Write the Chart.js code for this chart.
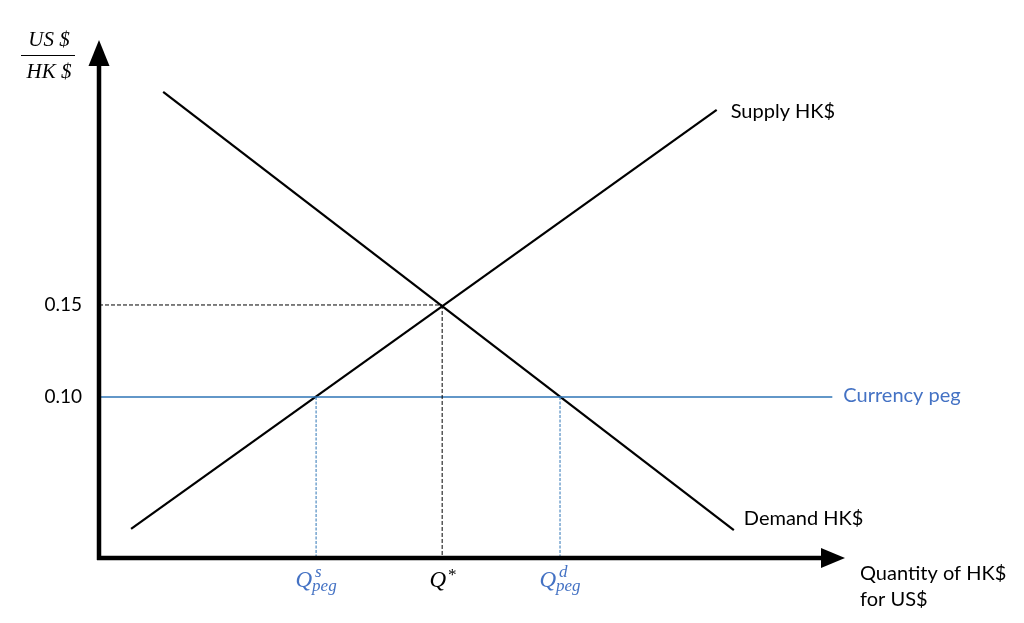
<!DOCTYPE html>
<html>
<head>
<meta charset="utf-8">
<script src="https://cdn.jsdelivr.net/npm/chart.js@4"></script>
<style>
html,body{margin:0;padding:0;background:#fff;}
#c{display:block;}
</style>
</head>
<body>
<canvas id="c" width="1024" height="623"></canvas>
<script>
// ---- data ----
const priceTicks = [0.10, 0.15];
const priceTickLabels = ["0.10", "0.15"];
const supplyX = [4.3, 82.8];
const supplyY = [0.0283, 0.256];
const demandX = [8.6, 85.1];
const demandY = [0.2658, 0.0277];
const pegX = [0, 98.3];
const pegY = [0.10, 0.10];
const eqQ = 46.0;
const eqP = 0.15;
const pegQs = 29.1;
const pegQd = 61.8;
const pegP = 0.10;
const qMin = 0, qMax = 100;
const pMin = 0.0125, pMax = 0.294;

const BLACK = '#000000';
const BLUE_LINE = '#2e75b6';
const BLUE_TEXT = '#4472c4';

function pts(xs, ys){ return xs.map((x,i)=>({x:x, y:ys[i]})); }

const datasets = [
  {label:'eqH', data: pts([qMin, eqQ],[eqP, eqP]), borderColor:BLACK, borderWidth:1, borderDash:[4,2]},
  {label:'eqV', data: pts([eqQ, eqQ],[eqP, pMin]), borderColor:BLACK, borderWidth:1, borderDash:[4,2]},
  {label:'qsV', data: pts([pegQs, pegQs],[pegP, pMin]), borderColor:BLUE_LINE, borderWidth:1, borderDash:[3,1.5]},
  {label:'qdV', data: pts([pegQd, pegQd],[pegP, pMin]), borderColor:BLUE_LINE, borderWidth:1, borderDash:[3,1.5]},
  {label:'Currency peg', data: pts(pegX, pegY), borderColor:BLUE_LINE, borderWidth:1.5},
  {label:'Supply HK$', data: pts(supplyX, supplyY), borderColor:BLACK, borderWidth:2.2},
  {label:'Demand HK$', data: pts(demandX, demandY), borderColor:BLACK, borderWidth:2.2},
].map(d=>Object.assign({showLine:true, pointRadius:0, fill:false, clip:false, tension:0}, d));

const annot = {
  id:'annot',
  afterDatasetsDraw(chart){
    const ctx = chart.ctx;
    const xs = chart.scales.x, ys = chart.scales.y;
    const X = v=>xs.getPixelForValue(v), Y = v=>ys.getPixelForValue(v);
    const x0 = X(qMin), y0 = Y(pMin), xTop = X(qMax), yTop = Y(pMax);
    ctx.save();
    // axes
    ctx.strokeStyle = BLACK; ctx.fillStyle = BLACK; ctx.lineWidth = 4.5; ctx.lineCap='butt';
    ctx.beginPath(); ctx.moveTo(x0, y0+2); ctx.lineTo(x0, yTop+22); ctx.stroke();
    ctx.beginPath(); ctx.moveTo(x0-2, y0); ctx.lineTo(xTop-20, y0); ctx.stroke();
    // arrow heads
    ctx.beginPath(); ctx.moveTo(x0, yTop); ctx.lineTo(x0-10.5, yTop+26); ctx.lineTo(x0+10.5, yTop+26); ctx.closePath(); ctx.fill();
    ctx.beginPath(); ctx.moveTo(xTop, y0); ctx.lineTo(xTop-24, y0-10); ctx.lineTo(xTop-24, y0+10); ctx.closePath(); ctx.fill();

    // y tick labels
    ctx.font = '19px Lato, "Open Sans", sans-serif';
    ctx.textAlign='right'; ctx.textBaseline='middle';
    priceTicks.forEach((p,i)=>{ ctx.fillText(priceTickLabels[i], 82, Y(p)); });

    // curve labels
    ctx.textAlign='left';
    ctx.font = '20px Lato, "Open Sans", sans-serif';
    ctx.fillText('Supply HK$', X(supplyX[1])+14, Y(supplyY[1])+2);
    ctx.fillText('Demand HK$', X(demandX[1])+10, Y(demandY[1])-11);
    ctx.fillStyle = BLUE_TEXT;
    ctx.fillText('Currency peg', X(pegX[1])+11, Y(pegY[1])-1);
    ctx.fillStyle = BLACK;
    ctx.fillText('Quantity of HK$', 860, 574);
    ctx.fillText('for US$', 860, 600);

    // y axis title fraction
    ctx.font = 'italic 21px "Liberation Serif", "DejaVu Serif", serif';
    ctx.textAlign='center';
    ctx.fillText('US $', 49, 40);
    ctx.fillText('HK $', 49, 72);
    ctx.lineWidth = 1.2;
    ctx.beginPath(); ctx.moveTo(21, 55.5); ctx.lineTo(75, 55.5); ctx.stroke();

    // quantity labels
    function qLabel(cx, sup, color){
      ctx.fillStyle = color;
      ctx.font = 'italic 23px "Liberation Serif", "DejaVu Serif", serif';
      ctx.textAlign='left'; ctx.textBaseline='alphabetic';
      const w = ctx.measureText('Q').width;
      ctx.font = 'italic 17px "Liberation Serif", "DejaVu Serif", serif';
      const sw = sup==='*' ? ctx.measureText('*').width : ctx.measureText('peg').width;
      const left = cx - (w+sw)/2;
      ctx.font = 'italic 23px "Liberation Serif", "DejaVu Serif", serif';
      ctx.fillText('Q', left, 587);
      ctx.font = 'italic 17px "Liberation Serif", "DejaVu Serif", serif';
      if (sup==='*'){
        ctx.fillText('*', left+w+1, 580);
      } else {
        ctx.fillText(sup, left+w+3, 577);
        ctx.fillText('peg', left+w, 591);
      }
    }
    qLabel(X(pegQs), 's', BLUE_TEXT);
    qLabel(X(eqQ), '*', BLACK);
    qLabel(X(pegQd), 'd', BLUE_TEXT);
    ctx.restore();
  }
};

new Chart(document.getElementById('c'), {
  type:'scatter',
  data:{datasets},
  options:{
    responsive:false, animation:false, devicePixelRatio:1,
    layout:{padding:{left:99, right:179, top:40, bottom:65}},
    plugins:{legend:{display:false}, tooltip:{enabled:false}},
    scales:{
      x:{type:'linear', min:qMin, max:qMax, display:false},
      y:{type:'linear', min:pMin, max:pMax, display:false}
    }
  },
  plugins:[annot]
});
</script>
</body>
</html>
